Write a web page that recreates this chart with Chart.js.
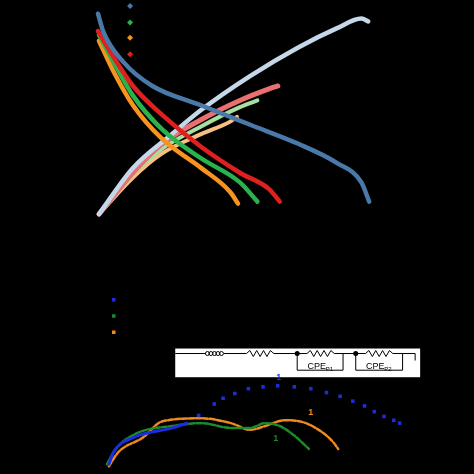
<!DOCTYPE html><html><head><style>html,body{margin:0;background:#000;width:474px;height:474px;overflow:hidden}
.c{position:absolute}</style>
<script src="https://cdn.jsdelivr.net/npm/chart.js"></script></head><body>
<div class="c" style="left:93px;top:2px;width:287px;height:220px"><canvas id="t"></canvas></div>
<div class="c" style="left:100px;top:290px;width:330px;height:184px"><canvas id="b"></canvas></div>
<script>
// Top panel: discharge / charge curves (arbitrary units)
const blueDis=[[1,212],[7,192],[27,162],[57,137],[107,117],[157,97],[207,77],[247,57],[272,37],[280,17]];
const blueCh=[[2,4],[37,52],[77,87],[107,112],[157,147],[207,177],[247,197],[272,207],[279,204]];
const redDis=[[1,194],[17,167],[37,137],[67,107],[107,74],[147,47],[177,30],[188,17]];
const greenDis=[[2,190],[17,162],[37,127],[67,92],[107,62],[147,37],[165,17]];
const orangeDis=[[2,184],[17,152],[37,117],[67,82],[107,52],[137,27],[145,15]];
const redCh=[[2,4],[37,47],[67,77],[107,102],[147,122],[177,134],[186,137]];
const greenCh=[[2,4],[37,45],[67,72],[107,95],[147,115],[165,122]];
const orangeCh=[[2,4],[37,42],[67,67],[107,87],[137,100],[144,105]];
const topLegend=[[34,220,'#4a78a8'],[34,203,'#2bb24c'],[34,187,'#f7931e'],[34,170,'#e0201f']];
// Bottom panel: Nyquist
const blueNyqLine=[[5,6],[10,19],[30,34],[70,44],[85,49]];
const blueNyqPts=[[97,57],[113,69],[122,75],[134,80],[148,85],[163,87],[178,88],[195,87],[212,85],[228,81],[242,77],[255,72],[267,67],[277,61],[287,56],[297,52],[303,49]];
const greenNyq=[[3,6],[12,22],[35,39],[70,46],[100,49],[130,44],[150,44],[165,49],[180,46],[195,36],[210,22]];
const orangeNyq=[[5,4],[15,19],[40,34],[60,51],[100,54],[130,49],[150,42],[165,46],[185,52],[200,51],[220,42],[235,29],[240,22]];
const bottomLegend=[[10,178,'#1a2ee0'],[10,161,'#1a8a2a'],[10,144,'#f08a1e']];

const P=a=>a.map(p=>({x:p[0],y:p[1]}));
function line(d,c,w,dash){return {type:'line',data:P(d),borderColor:c,borderWidth:w,pointRadius:0,cubicInterpolationMode:'monotone',borderDash:dash||[],fill:false,borderCapStyle:'round'};}
const hid={display:false};
new Chart(document.getElementById('t'),{type:'line',data:{datasets:[
 line(blueDis,'#4a78a8',4.5),line(redDis,'#e0201f',4.5),line(greenDis,'#2bb24c',4.5),line(orangeDis,'#f7931e',4.5),
 line(blueCh,'#c5d8ea',4.5),line(redCh,'#e87070',5),line(greenCh,'#a6e0a0',4),line(orangeCh,'#f8c080',4),
 {type:'scatter',data:topLegend.map(p=>({x:p[0],y:p[1]})),pointStyle:'rectRot',pointRadius:3,backgroundColor:topLegend.map(p=>p[2]),borderWidth:0}
]},options:{animation:false,responsive:true,maintainAspectRatio:false,clip:false,layout:{padding:0},
 plugins:{legend:hid,tooltip:{enabled:false}},scales:{x:{type:'linear',min:0,max:287,display:false},y:{min:0,max:220,display:false}}}});

function zig(ctx,x0,x1,y){ctx.beginPath();ctx.moveTo(x0,y);const n=4,s=(x1-x0)/(n*2);for(let i=1;i<=n*2;i++)ctx.lineTo(x0+i*s,y+(i%2?-3:3)*(i==n*2?0:1));ctx.stroke();}
const inset={id:'inset',beforeDatasetsDraw(ch){const {ctx,scales:{x,y}}=ch;const X=v=>x.getPixelForValue(v);
 const L=X(73),R=X(324),T=y.getPixelForValue(127),B=y.getPixelForValue(97);
 ctx.save();ctx.fillStyle='#fff';ctx.fillRect(L,T,R-L,B-T);ctx.strokeStyle='#000';ctx.lineWidth=1;
 const my=T+5;
 ctx.beginPath();ctx.moveTo(L,my);ctx.lineTo(X(104),my);ctx.moveTo(X(123),my);ctx.lineTo(X(146),my);ctx.moveTo(X(174),my);ctx.lineTo(X(198),my);
 ctx.moveTo(X(198),my);ctx.lineTo(X(208),my);ctx.moveTo(X(236),my);ctx.lineTo(X(258),my);ctx.moveTo(X(258),my);ctx.lineTo(X(268),my);ctx.moveTo(X(296),my);ctx.lineTo(R-5,my);ctx.lineTo(R-5,my+7);ctx.stroke();
 for(let i=0;i<5;i++){ctx.beginPath();ctx.arc(X(106)+i*3.5,my,2,0,7);ctx.stroke();}
 zig(ctx,X(146),X(174),my);zig(ctx,X(208),X(236),my);zig(ctx,X(268),X(296),my);
 ctx.fillStyle='#000';
 ctx.font='9px Arial';ctx.textAlign='center';
 ctx.fillText('CPE',X(218),T+20);ctx.fillText('CPE',X(278),T+20);
 ctx.font='6px Arial';ctx.fillText('P1',X(231),T+22);ctx.fillText('P2',X(291),T+22);
 ctx.beginPath();ctx.arc(X(198),my,2.5,0,7);ctx.arc(X(258),my,2.5,0,7);ctx.fill();
 [[198,245],[258,306]].forEach(([a,b])=>{ctx.beginPath();ctx.moveTo(X(a),my);ctx.lineTo(X(a),B-7);ctx.lineTo(X(b),B-7);ctx.lineTo(X(b),my);ctx.stroke();});
 ctx.restore();
 ctx.save();ctx.textAlign='center';ctx.fillStyle='#1a2ee0';ctx.font='bold 9px Arial';ctx.fillText('1',X(179),y.getPixelForValue(94));
 ctx.fillStyle='#f08a1e';ctx.fillText('1',X(212),y.getPixelForValue(58));
 ctx.fillStyle='#1a8a2a';ctx.fillText('1',X(176),y.getPixelForValue(30));ctx.restore();}};
new Chart(document.getElementById('b'),{type:'line',data:{datasets:[
 line(blueNyqLine,'#1a2ee0',3),
 {type:'scatter',data:P(blueNyqPts),pointStyle:'rect',pointRadius:2.5,backgroundColor:'#1a2ee0',borderWidth:0},
 line(greenNyq,'#1a8a2a',2.5,[5,2]),line(orangeNyq,'#f08a1e',2.5,[5,2]),
 {type:'scatter',data:bottomLegend.map(p=>({x:p[0],y:p[1]})),pointStyle:'rect',pointRadius:2.5,backgroundColor:bottomLegend.map(p=>p[2]),borderWidth:0}
]},options:{animation:false,responsive:true,maintainAspectRatio:false,clip:false,layout:{padding:0},
 plugins:{legend:hid,tooltip:{enabled:false}},scales:{x:{type:'linear',min:0,max:330,display:false},y:{min:0,max:184,display:false}}},plugins:[inset]});
</script></body></html>
